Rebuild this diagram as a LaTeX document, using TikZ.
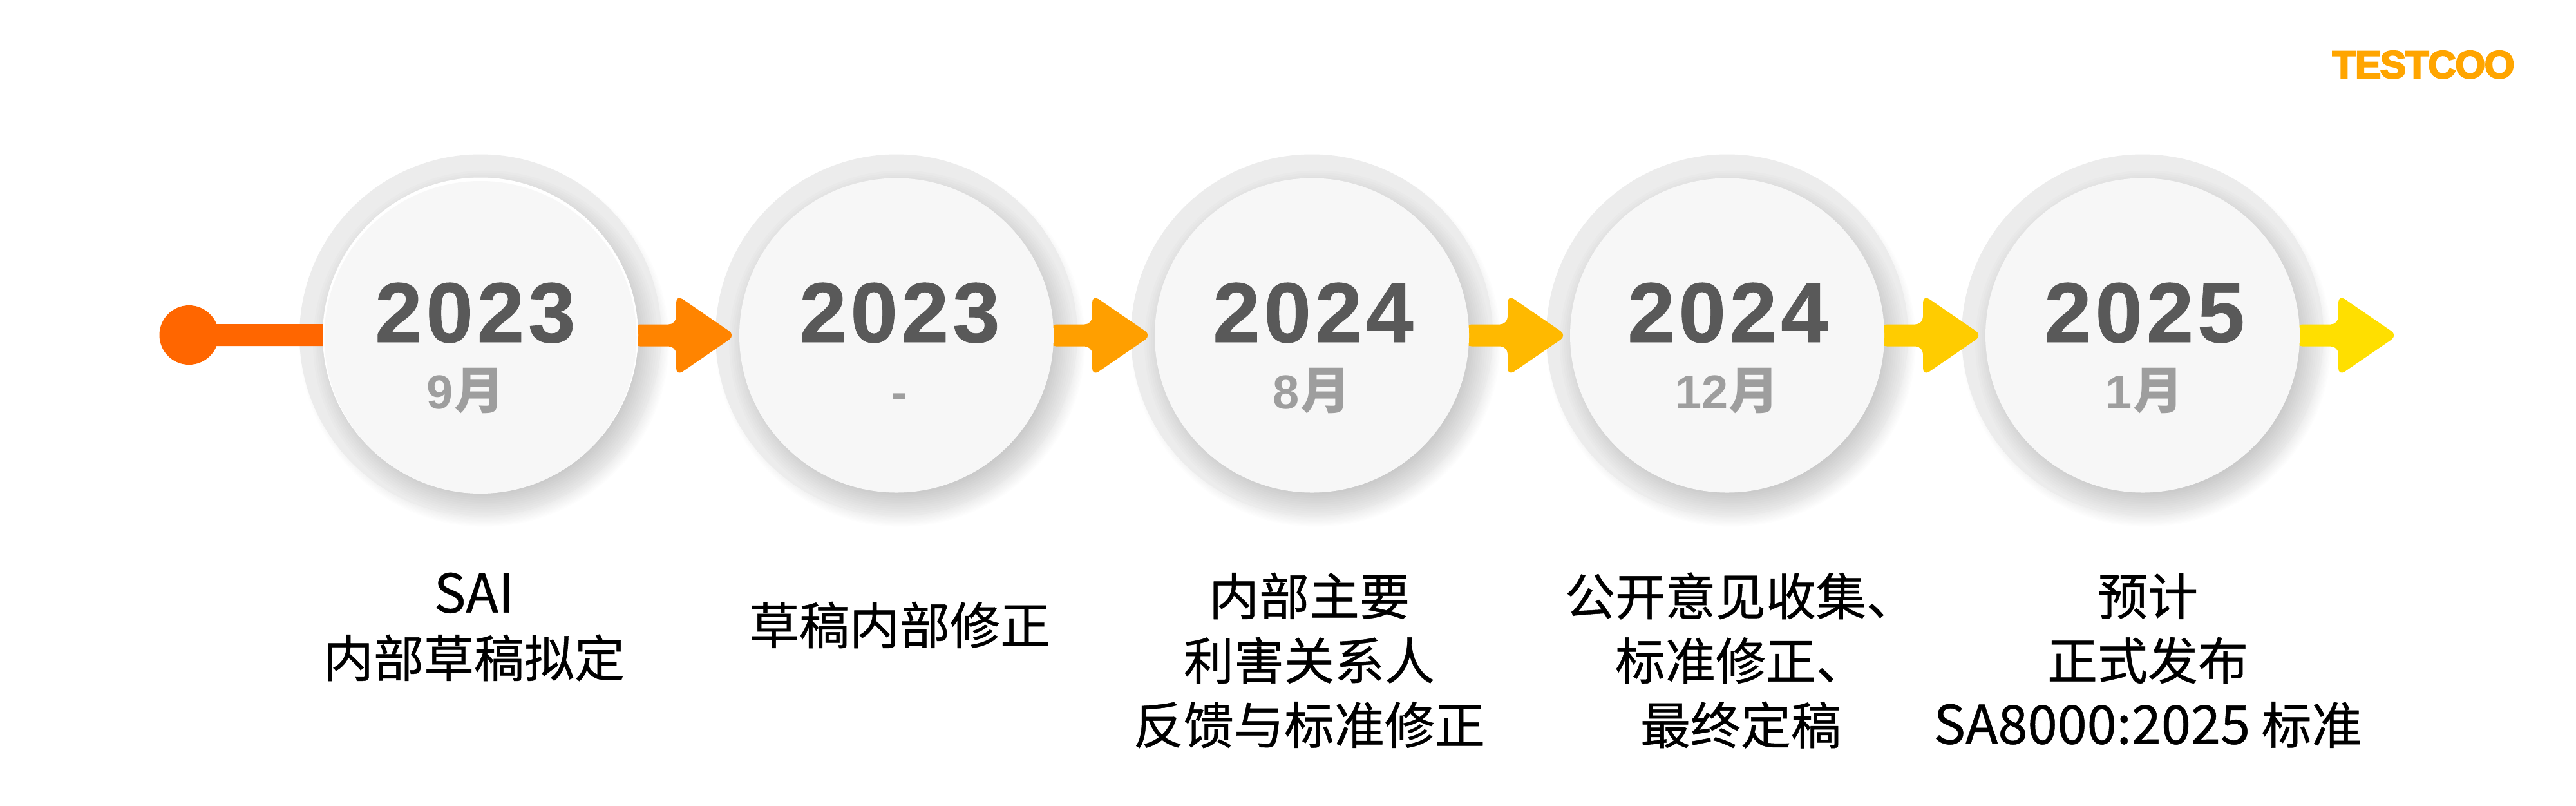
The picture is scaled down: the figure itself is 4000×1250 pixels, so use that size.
\documentclass[tikz,border=0pt]{standalone}
\usepackage{fontspec}
\usetikzlibrary{calc}
\setmainfont{Liberation Sans}
\newfontfamily\cjkfont{Noto Sans CJK SC}
\newfontfamily\labelfont[FakeBold=0.6]{Noto Sans CJK SC}
\newfontfamily\latinfont[FakeBold=0.6]{Noto Sans CJK SC}
\newfontfamily\yearfont[LetterSpace=4.5,FakeBold=0.6]{Liberation Sans Bold}
\newfontfamily\logofont[FakeBold=4,LetterSpace=-2]{Liberation Sans Bold}
\definecolor{dotc}{HTML}{FF6600}
\definecolor{yearc}{HTML}{595959}
\definecolor{monthc}{HTML}{9E9E9E}
\definecolor{logoc}{HTML}{FFA500}
\definecolor{ringc}{HTML}{ECECEC}
\definecolor{discc}{HTML}{F7F7F7}
\definecolor{a1}{HTML}{FF8400}
\definecolor{a2}{HTML}{FF9F00}
\definecolor{a3}{HTML}{FFB900}
\definecolor{a4}{HTML}{FFCC00}
\definecolor{a5}{HTML}{FFDF00}
\newcommand{\ringstack}[2]{%
  \coordinate (p#1) at (#2,520.5);
  \foreach \k in {0,...,9}{\fill[black,opacity=0.006] ($(p#1)+(6,10)$) circle ({287-1.9*\k});}
  \node[ringdisc] (o#1) at (p#1) {};
  \begin{scope}
    \clip (p#1) circle (281);
    \foreach \k in {0,...,13}{\fill[black,opacity=0.013] ($(p#1)+(8,12)$) circle ({268-3.4*\k});}
  \end{scope}
}
\newcommand{\arrowfrom}[2]{%
  \fill[#2,rounded corners=6] ($(o#1.center)+(236,-17)$) -- ($(o#1.center)+(304,-17)$) -- ($(o#1.center)+(304,-63)$)
    -- ($(o#1.center)+(396,0)$) -- ($(o#1.center)+(304,63)$) -- ($(o#1.center)+(304,17)$) -- ($(o#1.center)+(236,17)$) -- cycle;
}
\newcommand{\moon}{\hspace{0.5pt}{\cjkfont\bfseries\fontsize{39}{39}\selectfont 月}}
\newcommand{\latinpart}[1]{{\latinfont\fontsize{41.5}{50}\selectfont #1}}
\tikzset{
  x=0.5pt,y=-0.5pt,
  ringdisc/.style={circle,fill=ringc,minimum size=281pt,inner sep=0pt,outer sep=0pt},
  innerdisc/.style={circle,fill=discc,minimum size=244pt,inner sep=0pt,outer sep=0pt},
  glow/.style={circle,fill=white,minimum size=245pt,inner sep=0pt,outer sep=0pt},
  year/.style={anchor=base,text=yearc,inner sep=0pt,font=\yearfont\fontsize{66}{66}\selectfont},
  month/.style={anchor=base,text=monthc,inner sep=0pt,font=\fontsize{37}{37}\selectfont\bfseries},
  lab/.style={align=center,text=black,inner sep=0pt,font=\labelfont\fontsize{39}{50}\selectfont},
  logo/.style={anchor=base,text=logoc,inner sep=0pt,font=\logofont\fontsize{30}{30}\selectfont},
}
\begin{document}
\begin{tikzpicture}
\useasboundingbox (0,0) rectangle (4000,1250);
\ringstack{1}{746}\ringstack{2}{1392}\ringstack{3}{2037}\ringstack{4}{2682}\ringstack{5}{3327}
\node[circle,fill=dotc,minimum size=46pt,inner sep=0pt] (dot) at (293.5,520) {};
\draw[dotc,line width=17pt] (dot.center) -- (o1.center);
\arrowfrom{1}{a1}\arrowfrom{2}{a2}\arrowfrom{3}{a3}\arrowfrom{4}{a4}\arrowfrom{5}{a5}
\node[glow] (g1) at (p1) {};
\node[innerdisc,minimum size=242.5pt] (c1) at ($(p1)+(0,3)$) {};
\node[innerdisc] (c2) at (p2) {};
\node[innerdisc] (c3) at (p3) {};
\node[innerdisc] (c4) at (p4) {};
\node[innerdisc] (c5) at (p5) {};
\node[year] (y1) at (738,531) {2023};
\node[year] (y2) at (1397,531) {2023};
\node[year] (y3) at (2039,531) {2024};
\node[year] (y4) at (2683,531) {2024};
\node[year] (y5) at (3330,531) {2025};
\node[month] (m1) at (723,634) {9\moon};
\node[month] (m2) at (1397,634) {-};
\node[month] (m3) at (2037,634) {8\moon};
\node[month] (m4) at (2682,634) {12\moon};
\node[month] (m5) at (3330,634) {1\moon};
\node[lab] (t1) at (736,973) {\latinpart{SAI}\\内部草稿拟定};
\node[lab] (t2) at (1397,970) {草稿内部修正};
\node[lab] (t3) at (2033,1025) {内部主要\\利害关系人\\反馈与标准修正};
\node[lab] (t4) at (2703,1025) {公开意见收集、\\标准修正、\\最终定稿};
\node[lab] (t5) at (3335,1025) {预计\\正式发布\\\latinpart{SA8000:2025} 标准};
\node[logo] (brand) at (3763,121) {TESTCOO};
\end{tikzpicture}
\end{document}
